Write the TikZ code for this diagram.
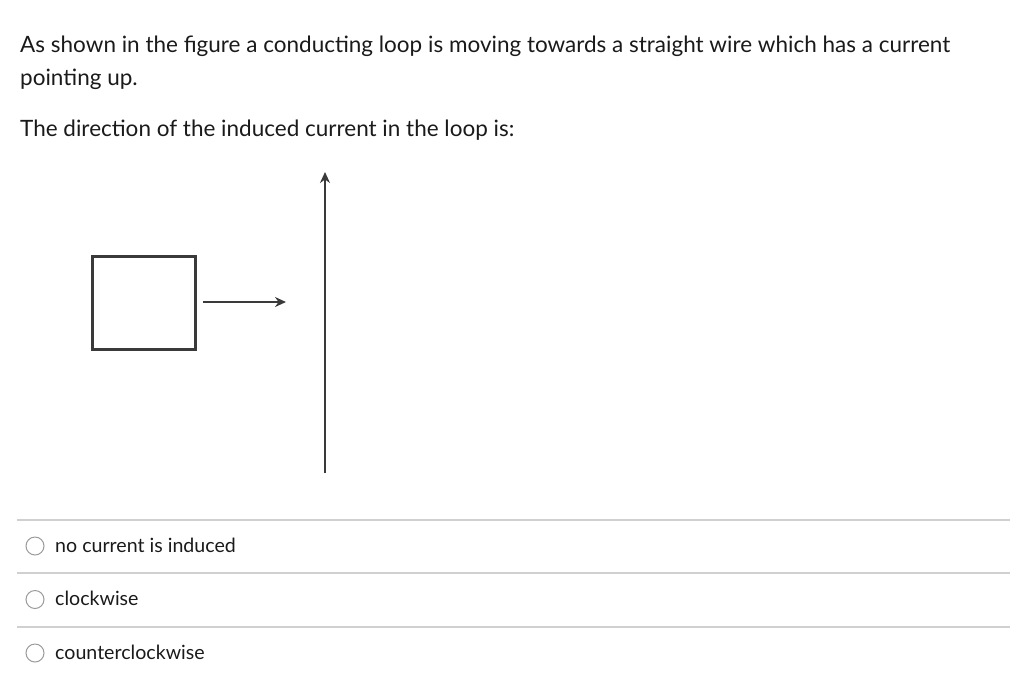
\documentclass[tikz,border=0pt]{standalone}
\usepackage{fontspec}
\setmainfont{Lato}
\usetikzlibrary{arrows.meta}
\definecolor{ink}{HTML}{1A1A1A}
\definecolor{wire}{HTML}{3A3A3A}
\definecolor{sep}{HTML}{D0D0D0}
\definecolor{radio}{HTML}{9A9A9A}
\tikzset{
  qtext/.style={anchor=base west, inner sep=0pt, text=ink, font=\fontsize{22.5}{27}\selectfont},
  otext/.style={anchor=base west, inner sep=0pt, text=ink, font=\fontsize{19.6}{23}\selectfont},
  sepline/.style={draw=sep, line width=1.5pt},
  radiobtn/.style={circle, draw=radio, line width=1pt, minimum size=18pt, inner sep=0pt},
  loopbox/.style={draw=wire, line width=3pt, inner sep=0pt, minimum width=103pt, minimum height=93pt},
  arr/.style={draw=wire, line width=2.2pt, -{Stealth[length=11pt,width=10pt]}}
}
\begin{document}
\begin{tikzpicture}[x=1pt,y=-1pt]
\useasboundingbox (0,0) rectangle (1024,686);
\node[qtext] (l1) at (20,52) {As shown in the figure a conducting loop is moving towards a straight wire which has a current};
\node[qtext] (l2) at (20,85) {pointing up.};
\node[qtext] (l3) at (20,136) {The direction of the induced current in the loop is:};
% loop
\node[loopbox] (loop) at (144,303) {};
\coordinate (mstart) at (203,302);
\coordinate (mend) at (286,302);
\draw[arr] (mstart) -- (mend);
% wire
\coordinate (wbot) at (325,473);
\coordinate (wtop) at (325,172);
\draw[arr] (wbot) -- (wtop);
% separators
\coordinate (s1a) at (17,520); \coordinate (s1b) at (1010,520);
\coordinate (s2a) at (17,573); \coordinate (s2b) at (1010,573);
\coordinate (s3a) at (17,627); \coordinate (s3b) at (1010,627);
\draw[sepline] (s1a) -- (s1b);
\draw[sepline] (s2a) -- (s2b);
\draw[sepline] (s3a) -- (s3b);
% options
\node[radiobtn] (r1) at (35,546) {};
\node[radiobtn] (r2) at (35,599.5) {};
\node[radiobtn] (r3) at (35,653) {};
\node[otext] (o1) at (55,552) {no current is induced};
\node[otext] (o2) at (55,605.5) {clockwise};
\node[otext] (o3) at (55,659) {counterclockwise};
\end{tikzpicture}
\end{document}
